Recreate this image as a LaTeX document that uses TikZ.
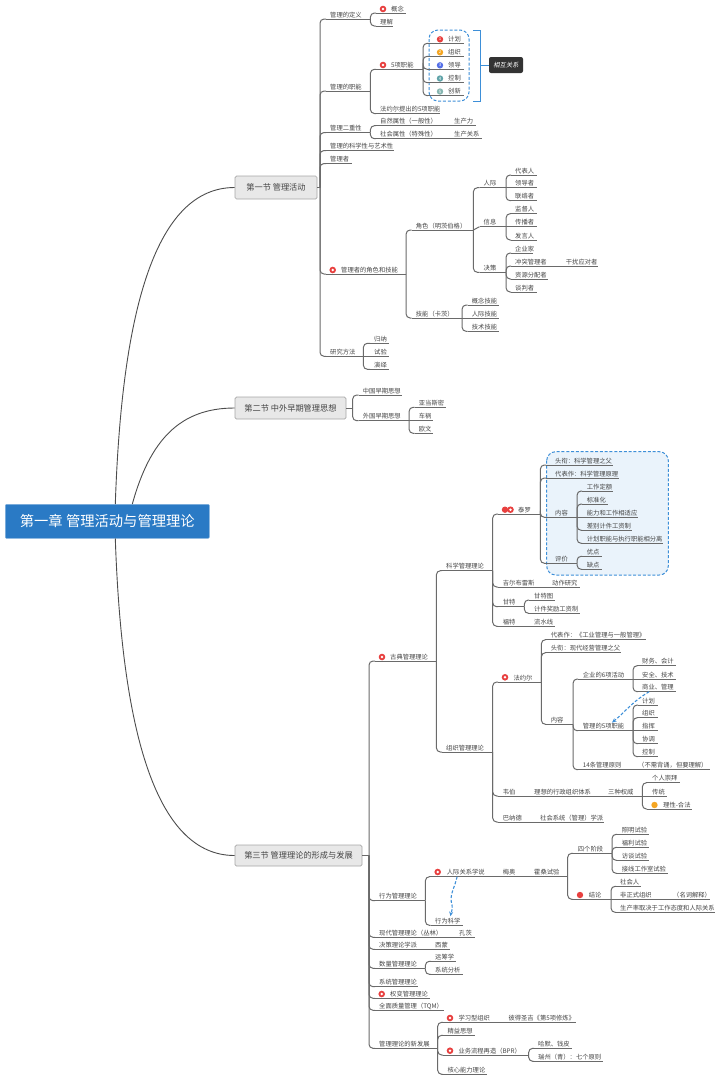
\documentclass[tikz,border=0pt]{standalone}
\usepackage{fontspec}
\usetikzlibrary{arrows.meta}
\setmainfont{Noto Sans CJK SC}
\newfontfamily\slantf[FakeSlant=0.2]{Noto Sans CJK SC}
\definecolor{txt}{HTML}{444444}
\definecolor{lnc}{HTML}{6A6A6A}
\definecolor{dashblue}{HTML}{3D8FD8}
\definecolor{rootblue}{HTML}{2A7AC5}
\definecolor{iconred}{HTML}{E8403F}
\definecolor{iconorg}{HTML}{F5A623}
\definecolor{iconblu}{HTML}{5570E8}
\definecolor{icontea}{HTML}{5FA3A8}
\definecolor{icongry}{HTML}{85B5B0}
\tikzset{
  topic/.style={anchor=south west,inner xsep=0pt,inner ysep=0pt,text=txt,align=left,
     font=\fontsize{6.3}{7}\selectfont,text height=6pt,text depth=1.7pt},
  uline/.style={draw=lnc,line width=1pt},
  conn/.style={draw=lnc,line width=1pt,rounded corners=4pt},
  curvec/.style={draw=black!70,line width=0.9pt},
  section/.style={draw=black!35,fill=black!9,rounded corners=1.5pt,line width=0.7pt,text=txt,
     font=\fontsize{8.2}{9}\selectfont,inner sep=0pt},
  rootn/.style={fill=rootblue,draw=rootblue!60,rounded corners=1pt,text=white,
     font=\fontsize{14.3}{16}\selectfont,inner sep=0pt,line width=0.4pt},
  numicon/.style={circle,inner sep=0pt,minimum size=6.4pt,text=white,font=\fontsize{4.4}{5}\selectfont},
  dashbox/.style={draw=dashblue,line width=1pt,dash pattern=on 3pt off 1.8pt,rounded corners=9pt},
  dasharrow/.style={draw=dashblue,line width=1.1pt,dash pattern=on 3pt off 1.8pt,-{Stealth[length=4.5pt,width=4pt]}},
  tagn/.style={fill=black!80,rounded corners=2pt,text=white,inner sep=0pt,font=\slantf\fontsize{6.3}{7}\selectfont},
}
\newcommand\tp[6][4]{%
  \node[topic,text width={(#4-#3)*1pt}] (#2) at (#3,#5) {\hspace*{#1pt}#6};
  \draw[uline] (#2.south west) -- (#2.south east);}
\newcommand\elb[2]{\draw[conn] (#1.south east) |- (#2.south west);}
\newcommand\elbc[2]{\draw[conn] (#1) |- (#2.south west);}
\newcommand\stp[2]{\draw[uline] (#1.south east) -- (#2.south west);}
\newcommand\ringicon[2]{\fill[iconred] (#1,#2) circle (3.3pt); \fill[white] (#1,#2) circle (1.4pt);}
\newcommand\solidicon[3]{\fill[#3] (#1,#2) circle (3.2pt);}
\begin{document}
\begin{tikzpicture}[x=1pt,y=-1pt]
\useasboundingbox (0,0) rectangle (720,1080);
% dashed regions
\draw[dashbox,fill=white] (429,30) rectangle (469,101);
\draw[dashbox,fill=dashblue!11] (546.7,451.7) rectangle (668.3,575);

% root and sections
\node[rootn,minimum width=204pt,minimum height=34pt] (root) at (107.3,521.3) {第一章 管理活动与管理理论};
\node[section,minimum width=82pt,minimum height=23pt] (sec1) at (276,187.5) {第一节 管理活动};
\node[section,minimum width=111pt,minimum height=22pt] (sec2) at (290.5,408) {第二节 中外早期管理思想};
\node[section,minimum width=127pt,minimum height=21pt] (sec3) at (298.5,855.5) {第三节 管理理论的形成与发展};
\draw[curvec] ([xshift=8pt]root.north) .. controls (121,335) and (148,187.5) .. (sec1.west);
\draw[curvec] ([xshift=25pt]root.north) .. controls (150,440) and (180,408) .. (sec2.west);
\draw[curvec] ([xshift=8pt]root.south) .. controls (121,705) and (148,855.5) .. (sec3.west);

% ---------- Section 1
\coordinate (s1) at (320,187.5);
\draw[conn] (sec1.east) -- (s1);
\tp{a1}{326}{370}{19}{管理的定义}
\tp{a2}{326}{370}{91}{管理的职能}
\tp{a3}{326}{370}{132.5}{管理二重性}
\tp{a4}{326}{394}{150.5}{管理的科学性与艺术性}
\tp{a5}{326}{352}{163.5}{管理者}
\tp[15]{a6}{326}{405.7}{274}{管理者的角色和技能}
\tp{a7}{326}{363}{356.3}{研究方法}
\foreach \c in {a1,a2,a3,a4,a5,a6,a7}{\elbc{s1}{\c}}
\ringicon{332.7}{270}

\tp[15]{b1}{376}{406}{13}{概念}
\tp{b2}{376}{393}{26}{理解}
\elb{a1}{b1}\elb{a1}{b2}
\ringicon{383}{9}

\tp[15]{b3}{376}{422.7}{69.3}{5项职能}
\tp{b4}{376}{440}{113.5}{法约尔提出的5项职能}
\elb{a2}{b3}\elb{a2}{b4}
\ringicon{383}{65}
\tp[20]{c1}{428}{464}{43.3}{计划}
\tp[20]{c2}{428}{464}{56.3}{组织}
\tp[20]{c3}{428}{464}{69.3}{领导}
\tp[20]{c4}{428}{464}{82.7}{控制}
\tp[20]{c5}{428}{464}{95.7}{创新}
\foreach \c in {c1,c2,c3,c4,c5}{\elb{b3}{\c}}
\node[numicon,fill=iconred] (n1) at (440,39.3) {1};
\node[numicon,fill=iconorg] (n2) at (440,52.3) {2};
\node[numicon,fill=iconblu] (n3) at (440,65.3) {3};
\node[numicon,fill=icontea] (n4) at (440,78.5) {4};
\node[numicon,fill=icongry] (n5) at (440,91.5) {5};
\node[tagn,minimum width=34pt,minimum height=16pt] (tag) at (506,65) {相互关系};
\coordinate (brA) at (473,30);
\coordinate (brB) at (473,101);
\draw[dashblue,line width=1pt] (brA) -- (480,30) -- (480,101) -- (brB);
\draw[dashblue,line width=1pt] (480,65) -- (tag.west);

\tp{b5}{376}{438}{125.7}{自然属性（一般性）}
\tp{b6}{376}{438}{138.7}{社会属性（特殊性）}
\tp[3]{b7}{451}{476}{125.7}{生产力}
\tp[3]{b8}{451}{482}{138.7}{生产关系}
\elb{a3}{b5}\elb{a3}{b6}\stp{b5}{b7}\stp{b6}{b8}

\tp{d1}{411.7}{473}{230}{角色（明茨伯格）}
\tp{d2}{411.7}{461.7}{318}{技能（卡茨）}
\elb{a6}{d1}\elb{a6}{d2}
\tp{e1}{479.5}{505.7}{187.7}{人际}
\tp{e2}{479.5}{505.7}{226.7}{信息}
\tp{e3}{479.5}{505.7}{272.3}{决策}
\elb{d1}{e1}\stp{d1}{e2}\elb{d1}{e3}
\tp{f1}{511}{536.7}{175}{代表人}
\tp{f2}{511}{536.7}{187.7}{领导者}
\tp{f3}{511}{536.7}{200.7}{联络者}
\elb{e1}{f1}\stp{e1}{f2}\elb{e1}{f3}
\tp{f4}{511}{536.7}{213.7}{监督人}
\tp{f5}{511}{536.7}{226.7}{传播者}
\tp{f6}{511}{536.7}{240}{发言人}
\elb{e2}{f4}\stp{e2}{f5}\elb{e2}{f6}
\tp{f7}{511}{533}{253}{企业家}
\tp{f8}{511}{548}{266}{冲突管理者}
\tp{f9}{511}{548}{279}{资源分配者}
\tp{f10}{511}{536.7}{292}{谈判者}
\elb{e3}{f7}\elb{e3}{f8}\elb{e3}{f9}\elb{e3}{f10}
\tp[6.7]{f11}{559}{598}{266}{干扰应对者}
\stp{f8}{f11}
\tp{g1}{467.7}{499}{305}{概念技能}
\tp{g2}{467.7}{499}{318}{人际技能}
\tp{g3}{467.7}{499}{331.3}{技术技能}
\elb{d2}{g1}\stp{d2}{g2}\elb{d2}{g3}
\tp{h1}{370}{389}{343.3}{归纳}
\tp{h2}{370}{389}{356.3}{试验}
\tp{h3}{370}{389}{369.3}{演绎}
\elb{a7}{h1}\stp{a7}{h2}\elb{a7}{h3}

% ---------- Section 2
\coordinate (s2) at (352.7,408);
\draw[conn] (sec2.east) -- (s2);
\tp{i1}{358.7}{401.7}{395}{中国早期思想}
\tp{i2}{358.7}{408.7}{420.7}{外国早期思想}
\elbc{s2}{i1}\elbc{s2}{i2}
\tp{j1}{414.7}{446}{407.3}{亚当斯密}
\tp{j2}{414.7}{433}{420.7}{车祸}
\tp{j3}{414.7}{433}{433.3}{欧文}
\elb{i2}{j1}\stp{i2}{j2}\elb{i2}{j3}

% ---------- Section 3
\coordinate (s3) at (369,855.5);
\draw[conn] (sec3.east) -- (s3);
\tp[15]{k1}{375}{436}{661}{古典管理理论}
\tp{k2}{375}{425}{900.7}{行为管理理论}
\tp{k3}{375}{443.3}{937.3}{现代管理理论（丛林）}
\tp{k4}{375}{425}{949.3}{决策理论学派}
\tp{k5}{375}{425}{968.3}{数量管理理论}
\tp{k6}{375}{418}{986.7}{系统管理理论}
\tp[15]{k7}{375}{429.3}{998.3}{权变管理理论}
\tp{k8}{375}{444}{1010.3}{全面质量管理（TQM）}
\tp{k9}{375}{437.3}{1048.3}{管理理论的新发展}
\foreach \c in {k1,k2,k3,k4,k5,k6,k7,k8,k9}{\elbc{s3}{\c}}
\ringicon{382}{657}
\ringicon{381.7}{994}

\tp[4]{l1}{442}{492.3}{570.7}{科学管理理论}
\tp[4]{l2}{442}{492.3}{752}{组织管理理论}
\elb{k1}{l1}\elb{k1}{l2}

\tp[20]{m1}{498}{540}{514}{泰罗}
\tp[4.7]{m2}{498}{533}{587}{吉尔布雷斯}
\tp[4.7]{m3}{498}{524}{606.7}{甘特}
\tp[4.7]{m4}{498}{524}{626.3}{福特}
\elb{l1}{m1}\elb{l1}{m2}\elb{l1}{m3}\elb{l1}{m4}
\solidicon{505}{509.7}{iconred}
\ringicon{510.5}{509.7}
\tp[3]{m5}{549}{579.3}{587}{动作研究}
\stp{m2}{m5}
\tp[5]{m6}{529}{555}{600}{甘特图}
\tp[5]{m7}{529}{579.3}{613.3}{计件奖励工资制}
\elb{m3}{m6}\elb{m3}{m7}
\tp[5]{m8}{529}{555}{626.3}{流水线}
\stp{m4}{m8}

\tp[9]{t1}{546}{612.7}{465}{头衔：科学管理之父}
\tp[9]{t2}{546}{619}{478}{代表作：科学管理原理}
\tp[9]{t3}{546}{576.7}{517.3}{内容}
\tp[9]{t4}{546}{576.7}{563.3}{评价}
\elb{m1}{t1}\elb{m1}{t2}\elb{m1}{t3}\elb{m1}{t4}
\tp[4.7]{t5}{582}{613}{491}{工作定额}
\tp[4.7]{t6}{582}{607.7}{504}{标准化}
\tp[4.7]{t7}{582}{637.7}{517.3}{能力和工作相适应}
\tp[4.7]{t8}{582}{632}{530.3}{差别计件工资制}
\tp[4.7]{t9}{582}{662.3}{543.3}{计划职能与执行职能相分离}
\elb{t3}{t5}\elb{t3}{t6}\stp{t3}{t7}\elb{t3}{t8}\elb{t3}{t9}
\tp[4.7]{t10}{582}{601.7}{556.3}{优点}
\tp[4.7]{t11}{582}{601.7}{569.3}{缺点}
\elb{t4}{t10}\elb{t4}{t11}

\tp[15.3]{o1}{498}{541}{682}{法约尔}
\tp[4.7]{o2}{498}{517}{796}{韦伯}
\tp[4.7]{o3}{498}{524}{822}{巴纳德}
\elb{l2}{o1}\elb{l2}{o2}\elb{l2}{o3}
\ringicon{505}{677.3}
\tp[4.7]{p1}{546}{645.7}{639.7}{代表作：《工业管理与一般管理》}
\tp[4.7]{p2}{546}{621}{652.7}{头衔：现代经营管理之父}
\tp[4.7]{p3}{546}{572.7}{724.3}{内容}
\elb{o1}{p1}\elb{o1}{p2}\elb{o1}{p3}
\tp[4.7]{q1}{578}{632.7}{679}{企业的6项活动}
\tp[4.7]{q2}{578}{632.7}{730.7}{管理的5项职能}
\tp[4.7]{q3}{578}{628}{769.7}{14条管理原则}
\elb{p3}{q1}\elb{p3}{q2}\elb{p3}{q3}
\tp[4]{q4}{634}{709.3}{769.7}{（不需背诵，但要理解）}
\stp{q3}{q4}
\tp[4]{r1}{638}{675.7}{665.7}{财务、会计}
\tp[4]{r2}{638}{675.7}{679}{安全、技术}
\tp[4]{r3}{638}{675.7}{691.7}{商业、管理}
\elb{q1}{r1}\stp{q1}{r2}\elb{q1}{r3}
\tp[4]{r4}{638}{657.3}{705}{计划}
\tp[4]{r5}{638}{657.3}{717.7}{组织}
\tp[4]{r6}{638}{657.3}{730.7}{指挥}
\tp[4]{r7}{638}{657.3}{743.7}{协调}
\tp[4]{r8}{638}{657.3}{756.7}{控制}
\elb{q2}{r4}\elb{q2}{r5}\stp{q2}{r6}\elb{q2}{r7}\elb{q2}{r8}
\draw[dasharrow] ([xshift=-27pt]r3.south east) .. controls (632,702) and (625,712) .. ([xshift=34pt]q2.north west);

\tp[4]{u1}{530}{598}{796}{理想的行政组织体系}
\tp[4]{u2}{604}{642}{796}{三种权威}
\stp{o2}{u1}\stp{u1}{u2}
\tp[5]{v1}{647}{679.3}{782.7}{个人崇拜}
\tp[5]{v2}{647}{666.7}{796}{传统}
\tp[16]{v3}{647}{691.7}{809}{理性-合法}
\elb{u2}{v1}\stp{u2}{v2}\elb{u2}{v3}
\solidicon{654.5}{805}{iconorg}
\tp[4]{w1}{536}{604}{822}{社会系统（管理）学派}
\stp{o3}{w1}

% behaviour
\tp[16.7]{x1}{430}{485.7}{876.7}{人际关系学说}
\tp[4.5]{x2}{430.5}{462.3}{925.3}{行为科学}
\elb{k2}{x1}\elb{k2}{x2}
\ringicon{437.7}{872}
\tp[4.7]{x3}{498}{520}{876.7}{梅奥}
\tp[4]{x4}{530}{567.3}{876.7}{霍桑试验}
\stp{x1}{x3}\stp{x3}{x4}
\tp[4.7]{y1}{573}{611.7}{853.3}{四个阶段}
\tp[15.7]{y2}{573}{610.7}{899.3}{结论}
\elb{x4}{y1}\elb{x4}{y2}
\solidicon{580}{895}{iconred}
\tp[4.7]{y3}{617}{649}{834.3}{照明试验}
\tp[4.7]{y4}{617}{649}{847.3}{福利试验}
\tp[4.7]{y5}{617}{649}{860.3}{访谈试验}
\tp[4.7]{y6}{617}{667.3}{873.3}{接线工作室试验}
\elb{y1}{y3}\elb{y1}{y4}\elb{y1}{y5}\elb{y1}{y6}
\tp[4]{z1}{616}{641}{886.3}{社会人}
\tp[4]{z2}{616}{653.3}{899.3}{非正式组织}
\tp[4]{z3}{616}{715}{912.3}{生产率取决于工作态度和人际关系}
\elb{y2}{z1}\stp{y2}{z2}\elb{y2}{z3}
\tp[8]{z4}{665}{709.3}{899.3}{（名词解释）}
\stp{z2}{z4}
\draw[dasharrow] ([xshift=-29pt]x1.south east) .. controls (454,890) and (449,895) .. (452,905) .. controls (453,909) and (451,913) .. ([xshift=20pt,yshift=1pt]x2.north west);

% others
\tp[8]{aa1}{451}{474.3}{937.3}{孔茨}
\stp{k3}{aa1}
\tp[4]{aa2}{431}{450}{949.3}{西蒙}
\stp{k4}{aa2}
\tp[4]{aa3}{431}{456}{961.3}{运筹学}
\tp[4]{aa4}{431}{462.3}{974.3}{系统分析}
\elb{k5}{aa3}\elb{k5}{aa4}

\tp[15.3]{ab1}{443}{493}{1022.3}{学习型组织}
\tp[4.3]{ab2}{443}{474.7}{1035.3}{精益思想}
\tp[15.3]{ab3}{443}{528.3}{1055}{业务流程再造（BPR）}
\tp[4.3]{ab4}{443}{486.7}{1074.3}{核心能力理论}
\elb{k9}{ab1}\elb{k9}{ab2}\elb{k9}{ab3}\elb{k9}{ab4}
\ringicon{450}{1018}
\ringicon{450}{1050.7}
\tp[3.3]{ab5}{505}{575.7}{1022.3}{彼得圣吉《第5项修炼》}
\stp{ab1}{ab5}
\tp[4]{ab6}{534}{571.7}{1048.3}{哈默、钱皮}
\tp[4]{ab7}{534}{602.3}{1061.3}{瑞州（青）：七个原则}
\elb{ab3}{ab6}\elb{ab3}{ab7}
\end{tikzpicture}
\end{document}
